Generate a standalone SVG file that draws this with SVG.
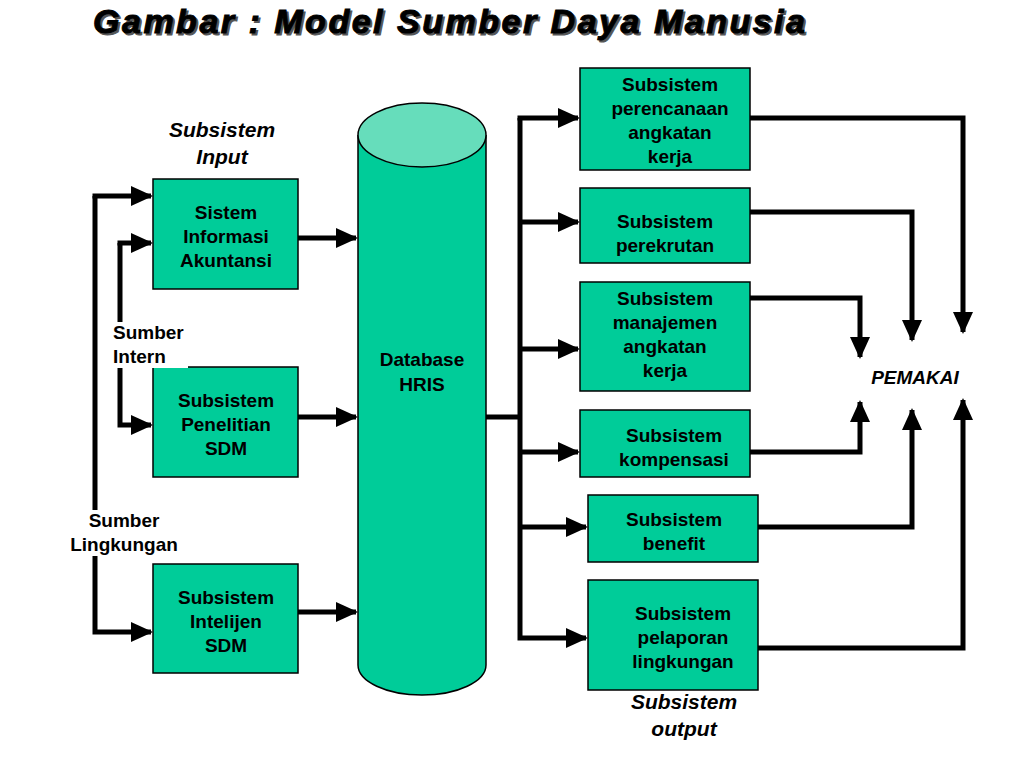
<svg xmlns="http://www.w3.org/2000/svg" width="1024" height="768" viewBox="0 0 1024 768">
<style>
.b{fill:#00CC99;stroke:#000;stroke-width:1.5}
.t{font-family:"Liberation Sans",Arial,sans-serif;font-weight:bold;font-size:19px;fill:#000;text-anchor:middle}
.i{font-style:italic;font-size:21px}
.c path{fill:none;stroke:#000;stroke-width:5;stroke-linejoin:miter}
</style>
<defs>
<marker id="a" markerUnits="userSpaceOnUse" markerWidth="22" markerHeight="20" refX="20" refY="10" orient="auto">
<path d="M0,0 L22,10 L0,20 Z" fill="#000"/>
</marker>
</defs>
<rect width="1024" height="768" fill="#fff"/>
<text x="449" y="33" class="t" style="font-size:34px;font-style:italic;fill:#555;stroke:#555;stroke-width:1" transform="translate(2,2)" textLength="712">Gambar : Model Sumber Daya Manusia</text>
<text x="449" y="33" class="t" style="font-size:34px;font-style:italic;stroke:#000;stroke-width:1" textLength="712">Gambar : Model Sumber Daya Manusia</text>

<g class="c" id="connectors">
<path d="M298,238 H356" marker-end="url(#a)"/>
<path d="M298,417 H356" marker-end="url(#a)"/>
<path d="M298,612 H356" marker-end="url(#a)"/>
<path d="M95,196 V632 H151" marker-end="url(#a)"/>
<path d="M92.5,196 H151" marker-end="url(#a)"/>
<path d="M120,243 V425 H151" marker-end="url(#a)"/>
<path d="M117.5,243 H151" marker-end="url(#a)"/>
<path d="M486,417 H520"/>
<path d="M520,118 V638 H586" marker-end="url(#a)"/>
<path d="M517.5,118 H578" marker-end="url(#a)"/>
<path d="M520,222 H578" marker-end="url(#a)"/>
<path d="M520,349 H578" marker-end="url(#a)"/>
<path d="M520,452 H578" marker-end="url(#a)"/>
<path d="M520,527 H586" marker-end="url(#a)"/>
<path d="M750,118 H963 V332" marker-end="url(#a)"/>
<path d="M750,212 H912 V340" marker-end="url(#a)"/>
<path d="M750,298 H860 V357" marker-end="url(#a)"/>
<path d="M750,452 H860 V402" marker-end="url(#a)"/>
<path d="M758,527 H912 V410" marker-end="url(#a)"/>
<path d="M758,648 H963 V400" marker-end="url(#a)"/>
</g>

<g id="n-sia"><rect class="b" x="153" y="179" width="145" height="110"/><text class="t" x="226" y="219">Sistem</text><text class="t" x="226" y="243">Informasi</text><text class="t" x="226" y="267">Akuntansi</text></g>
<g id="n-pen"><rect class="b" x="153" y="367" width="145" height="110"/><text class="t" x="226" y="407">Subsistem</text><text class="t" x="226" y="431">Penelitian</text><text class="t" x="226" y="455">SDM</text></g>
<g id="n-int"><rect class="b" x="153" y="564" width="145" height="109"/><text class="t" x="226" y="604">Subsistem</text><text class="t" x="226" y="628">Intelijen</text><text class="t" x="226" y="652">SDM</text></g>

<g id="n-db">
<path class="b" d="M358,135 V665 A64,30 0 0 0 486,665 V135" />
<ellipse cx="422" cy="135" rx="64" ry="32" fill="#66DDBB" stroke="#000" stroke-width="1.5"/>
<text class="t" x="422" y="366">Database</text><text class="t" x="422" y="391">HRIS</text>
</g>

<g id="n-r1"><rect class="b" x="580" y="68" width="170" height="102"/><text class="t" x="670" y="91">Subsistem</text><text class="t" x="670" y="115">perencanaan</text><text class="t" x="670" y="139">angkatan</text><text class="t" x="670" y="163">kerja</text></g>
<g id="n-r2"><rect class="b" x="580" y="188" width="170" height="75"/><text class="t" x="665" y="228">Subsistem</text><text class="t" x="665" y="252">perekrutan</text></g>
<g id="n-r3"><rect class="b" x="580" y="282" width="170" height="109"/><text class="t" x="665" y="305">Subsistem</text><text class="t" x="665" y="329">manajemen</text><text class="t" x="665" y="353">angkatan</text><text class="t" x="665" y="377">kerja</text></g>
<g id="n-r4"><rect class="b" x="580" y="410" width="170" height="67"/><text class="t" x="674" y="442">Subsistem</text><text class="t" x="674" y="466">kompensasi</text></g>
<g id="n-r5"><rect class="b" x="588" y="495" width="170" height="67"/><text class="t" x="674" y="526">Subsistem</text><text class="t" x="674" y="550">benefit</text></g>
<g id="n-r6"><rect class="b" x="588" y="580" width="170" height="110"/><text class="t" x="683" y="620">Subsistem</text><text class="t" x="683" y="644">pelaporan</text><text class="t" x="683" y="668">lingkungan</text></g>

<g id="labels">
<rect x="112" y="322" width="76" height="46" fill="#fff"/>
<rect x="60" y="510" width="128" height="46" fill="#fff"/>
<text class="t i" x="222" y="137">Subsistem</text><text class="t i" x="222" y="164">Input</text>
<text class="t" x="113" y="339" style="text-anchor:start">Sumber</text><text class="t" x="113" y="363" style="text-anchor:start">Intern</text>
<text class="t" x="124" y="527">Sumber</text><text class="t" x="124" y="551">Lingkungan</text>
<text class="t i" x="684" y="709">Subsistem</text><text class="t i" x="684" y="736">output</text>
<text class="t" x="915" y="384" style="font-style:italic">PEMAKAI</text>
</g>
</svg>
